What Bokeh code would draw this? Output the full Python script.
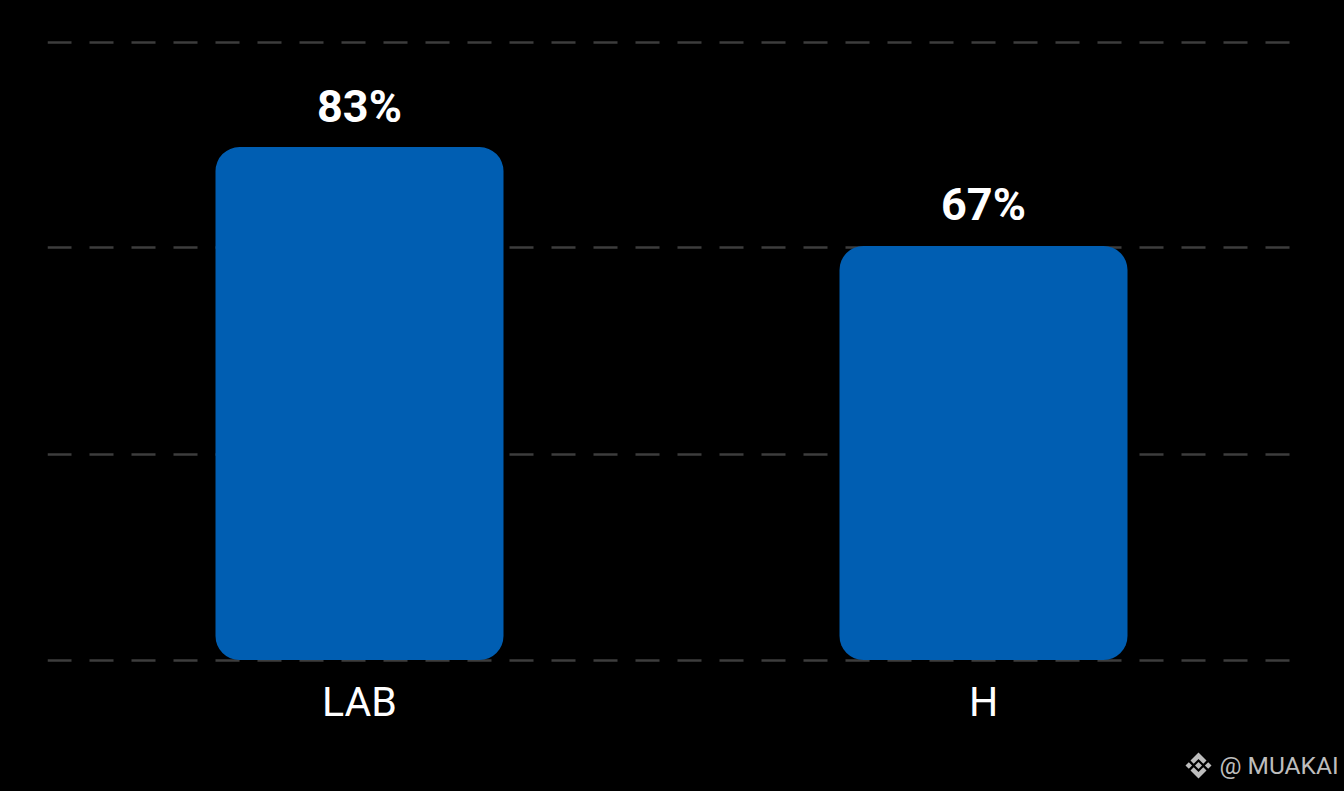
from bokeh.plotting import figure
from bokeh.layouts import column
from bokeh.models import ColumnDataSource, FactorRange, Range1d, FixedTicker
from bokeh.core.properties import value
from bokeh.embed import file_html
from bokeh.resources import INLINE

categories = ["LAB", "H"]
values = [83, 67]
labels = ["83%", "67%"]
grid_ticks = [0, 33.333, 66.667, 100]
watermark = "@ MUAKAI"

BG = "#000000"
BAR = "#005EB2"
GRID = "#3D3D3D"
MARK = "#BDBDBD"
FONT = "Roboto"
W, H = 1344, 791
FOOTER_H = 46
MAIN_H = H - FOOTER_H
LEFT, RIGHT, TOP, BOTTOM = 47, 1295, 20, 670
PX_PER_UNIT = 6.18

p = figure(
    width=W, height=MAIN_H, output_backend="svg", toolbar_location=None,
    x_range=FactorRange(factors=categories, range_padding=0, factor_padding=0),
    y_range=Range1d(-(BOTTOM - 659.5) / PX_PER_UNIT, 100 + (41.5 - TOP) / PX_PER_UNIT),
    background_fill_color=BG, border_fill_color=BG, frame_align=False,
    min_border_left=LEFT, min_border_right=W - RIGHT, min_border_top=TOP, min_border_bottom=MAIN_H - BOTTOM,
)
p.outline_line_color = None
p.xgrid.visible = False
p.yaxis.visible = False
p.ygrid.ticker = FixedTicker(ticks=grid_ticks)
p.ygrid.grid_line_color = GRID
p.ygrid.grid_line_width = 2.5
p.ygrid.grid_line_dash = "24 18"

xa = p.xaxis[0]
xa.axis_line_color = None
xa.major_tick_line_color = None
xa.minor_tick_line_color = None
xa.major_label_text_color = "#FFFFFF"
xa.major_label_text_font = FONT
xa.major_label_text_font_size = "41px"
xa.major_label_standoff = 1

src = ColumnDataSource(dict(cat=categories, val=values, lab=labels))
p.vbar(x="cat", top="val", bottom=0, width=288 / 624, source=src,
       fill_color=BAR, line_color=None, border_radius=24)
p.text(x="cat", y="val", text="lab", source=src, text_color="#FFFFFF",
       text_font=value(FONT), text_font_style="bold", text_font_size="45px",
       text_align="center", text_baseline="alphabetic", y_offset=-41)

# footer strip holding the watermark; its ranges are the strip's own pixels
footer = figure(
    width=W, height=FOOTER_H, output_backend="svg", toolbar_location=None,
    x_range=Range1d(0, W), y_range=Range1d(H, MAIN_H),
    x_axis_location=None, y_axis_location=None,
    background_fill_color=BG, border_fill_color=BG, frame_align=False,
    min_border_left=0, min_border_right=0, min_border_top=0, min_border_bottom=0,
)
footer.grid.visible = False
footer.outline_line_color = None

LOGO_CX, LOGO_CY = 1198, 765
logo = [
    [(0, -3.5), (3.5, 0), (0, 3.5), (-3.5, 0)],
    [(-13, 0), (-9.7, -3.3), (-6.4, 0), (-9.7, 3.3)],
    [(13, 0), (9.7, -3.3), (6.4, 0), (9.7, 3.3)],
    [(-8, -5), (0, -13), (8, -5), (4.8, -1.8), (0, -6.6), (-4.8, -1.8)],
    [(-8, 5), (0, 13), (8, 5), (4.8, 1.8), (0, 6.6), (-4.8, 1.8)],
]
footer.patches(
    xs=[[LOGO_CX + a for a, _ in poly] for poly in logo],
    ys=[[LOGO_CY + b for _, b in poly] for poly in logo],
    fill_color=MARK, line_color=None,
)
footer.text(x=[1219], y=[LOGO_CY], text=[watermark], text_color=MARK,
            text_font=value(FONT), text_font_size="24.5px",
            text_align="left", text_baseline="middle")

html = file_html(column(p, footer, spacing=0), INLINE)
html = html.replace("</head>", "<style>html,body{background:#000000;margin:0;padding:0;overflow:hidden;}</style></head>", 1)
open("out.html", "w").write(html)
